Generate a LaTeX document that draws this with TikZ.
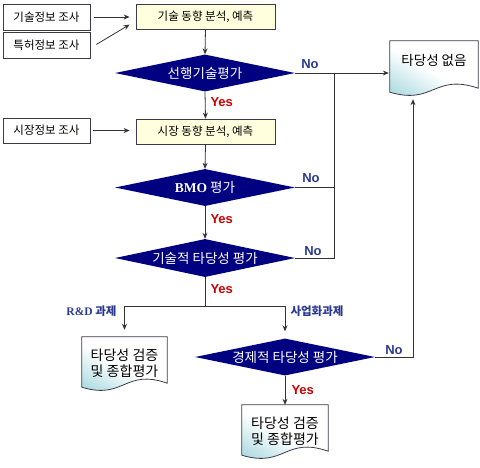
\documentclass[tikz,border=0pt]{standalone}
\usepackage{fontspec}
\setmainfont{Noto Sans CJK KR}
\newfontfamily\lsans{Liberation Sans}
\newfontfamily\lserif{Liberation Serif}
\usetikzlibrary{shapes.geometric,arrows.meta,calc,backgrounds}
\definecolor{navy}{HTML}{000080}
\definecolor{lblue}{HTML}{2B3990}
\definecolor{yesred}{HTML}{CC0000}
\definecolor{boxy}{HTML}{FFFFDD}
\definecolor{docc}{HTML}{B0DCE2}
\definecolor{linec}{HTML}{333333}
\definecolor{boxc}{HTML}{3A3A4A}
\newcommand\mydocshape[1]{%
  \path[draw=boxc, line width=0.8pt, top color=white, bottom color=docc, middle color=white, shading angle=-30]
    (#1.north west) -- (#1.north east) -- ($(#1.south east)+(0,-7)$)
    .. controls ($(#1.south)+(0,-22)$) and ($(#1.south)+(0,10)$) .. ($(#1.south west)+(0,-3)$) -- cycle;}
\begin{document}
\begin{tikzpicture}[x=1pt,y=-1pt,
  src/.style={draw=boxc, line width=0.8pt, fill=white, minimum width=87pt, minimum height=26pt, inner sep=0pt, font=\fontsize{11.5}{13}\selectfont},
  trend/.style={src, fill=boxy, minimum width=139pt, minimum height=25pt},
  dec/.style={diamond, aspect=4.9, fill=navy, text=white, inner sep=0pt, minimum width=180pt, minimum height=37pt, font=\fontsize{13.5}{15}\selectfont},
  docnode/.style={inner sep=0pt, align=left, font=\fontsize{14}{16}\selectfont},
  lab/.style={font=\lsans\bfseries\fontsize{13}{15}\selectfont},
  yes/.style={lab, text=yesred, anchor=west},
  no/.style={lab, text=lblue},
  klab/.style={text=lblue, font=\bfseries\fontsize{11.5}{13}\selectfont},
  ln/.style={draw=linec, line width=0.8pt},
  arr/.style={ln, -{Stealth[length=6pt,width=5pt]}}
]
\useasboundingbox (0,0) rectangle (480,467);
% nodes
\node[src] (n1) at (46.5,17) {기술정보 조사};
\node[src] (n2) at (46.5,45) {특허정보 조사};
\node[trend] (t1) at (205.5,16.5) {기술 동향 분석, 예측};
\node[dec] (d1) at (205,73) {선행기술평가};
\node[src, minimum height=25pt] (n3) at (46.5,130.5) {시장정보 조사};
\node[trend] (t2) at (205.5,131.5) {시장 동향 분석, 예측};
\node[dec] (d2) at (205,187.5) {{\lserif\bfseries BMO} 평가};
\node[dec, minimum height=38pt] (d3) at (205,258) {기술적 타당성 평가};
\node[dec] (d4) at (285,357) {경제적 타당성 평가};
\node[docnode, minimum width=88pt, minimum height=54pt, align=center, text depth=17pt, font=\fontsize{13.5}{15}\selectfont] (nv) at (434,68) {타당성 없음};
\node[docnode, minimum width=85pt, minimum height=53pt] (doc1) at (124.5,363.5) {타당성 검증\\및 종합평가};
\node[docnode, minimum width=86pt, minimum height=53pt] (doc2) at (285,431.5) {타당성 검증\\및 종합평가};
\begin{pgfonlayer}{background}
\mydocshape{nv}
\mydocshape{doc1}
\mydocshape{doc2}
\end{pgfonlayer}
% coordinates
\coordinate (br) at (205,306);
\coordinate (jn) at (334,0);
\coordinate (jr) at (413,0);
% connectors
\draw[arr, shorten <=4pt, shorten >=6pt] (n1.east) -- (n1.east -| t1.west);
\draw[arr, shorten <=7pt, shorten >=7pt] ($(n2.east)+(0,3)$) -- ($(t1.west)+(0,4.5)$);
\draw[arr] (t1.south) -- (d1.north);
\draw[arr] (d1.south) -- (t2.north);
\draw[arr, shorten <=3pt, shorten >=6pt] (n3.east) -- (n3.east -| t2.west);
\draw[arr] (t2.south) -- (d2.north);
\draw[arr] (d2.south) -- (d3.north);
\draw[ln] (d3.south) -- (br);
\draw[arr, shorten >=7pt] (br) -| (doc1.north);
\draw[arr, shorten >=7pt] (br) -| (d4.north);
\draw[arr] (d4.south) -- (doc2.north);
\draw[arr, shorten >=1pt] (d1.east) -- (d1.east -| nv.west);
\draw[ln] (d2.east) -- (d2.east -| jn);
\draw[ln] (d3.east) -| (jn |- d1.east);
\draw[arr, shorten >=4pt] (d4.east) -| (jr |- nv.south);
% labels
\node[yes] (y1) at (207,102) {Yes};
\node[yes] (y2) at (207,219) {Yes};
\node[yes] (y3) at (207,289) {Yes};
\node[yes] (y4) at (288,390) {Yes};
\node[no] (no1) at (310,64) {No};
\node[no] (no2) at (311,178) {No};
\node[no] (no3) at (313,251) {No};
\node[no] (no4) at (394,350) {No};
\node[klab, anchor=east] (rd) at (120,311) {{\lserif\bfseries R\&D} 과제};
\node[klab, anchor=west] (biz) at (287,311) {사업화과제};
\end{tikzpicture}
\end{document}
